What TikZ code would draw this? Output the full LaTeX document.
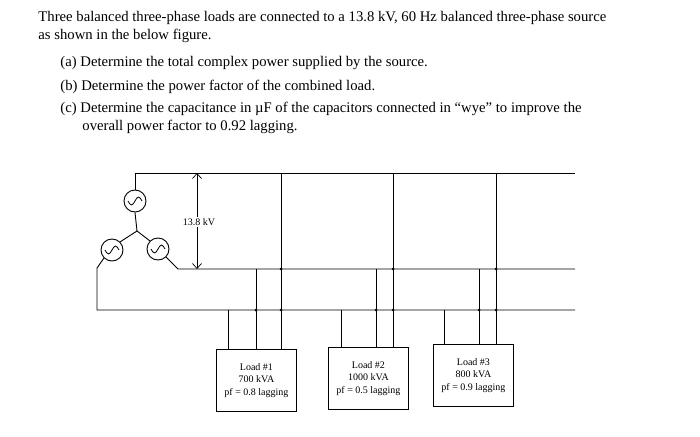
\documentclass[tikz,border=0pt]{standalone}
\usepackage{fontspec}
\setmainfont{Liberation Serif}
\usetikzlibrary{arrows.meta}
\begin{document}
\begin{tikzpicture}[x=1pt,y=-1pt,line width=0.9pt,
  txt/.style={anchor=base west,inner sep=0pt,font=\fontsize{14.7}{17}\selectfont},
  gen/.style={circle,draw,minimum size=22pt,inner sep=0pt},
  loadbox/.style={draw,minimum width=80pt,minimum height=62pt,anchor=north west,inner sep=2pt,align=center,font=\fontsize{10}{12.5}\selectfont},
  dot/.style={circle,fill,inner sep=0pt,minimum size=3pt},
  varrow/.style={-{Straight Barb[length=5pt,width=9pt]},line width=0.7pt}]
\useasboundingbox[fill=white] (0,0) rectangle (700,436);
\node[txt] (t1) at (38,22) {Three balanced three-phase loads are connected to a 13.8 kV, 60 Hz balanced three-phase source};
\node[txt] (t2) at (38,40) {as shown in the below figure.};
\node[txt] (a) at (60,66) {(a) Determine the total complex power supplied by the source.};
\node[txt] (b) at (60,90) {(b) Determine the power factor of the combined load.};
\node[txt] (c) at (60,112) {(c) Determine the capacitance in µF of the capacitors connected in “wye” to improve the};
\node[txt] (c2) at (82,130) {overall power factor to 0.92 lagging.};
% generators
\node[gen] (g1) at (135,201) {};
\node[gen] (g2) at (112,250) {};
\node[gen] (g3) at (158,249) {};
\foreach \g in {g1,g2,g3}
  \draw[line width=0.8pt] ([xshift=-7pt]\g.center) sin ([xshift=-3.5pt,yshift=-4pt]\g.center) cos (\g.center) sin ([xshift=3.5pt,yshift=4pt]\g.center) cos ([xshift=7pt]\g.center);
\coordinate (n) at (137,231);
\draw (g1.south) -- (n) -- (g2.north east);
\draw (n) -- (g3.north west);
% buses
\coordinate (ta) at (135,173); \coordinate (tb) at (575,173);
\coordinate (ma) at (178,269); \coordinate (mb) at (575,269);
\coordinate (ba) at (97,268);  \coordinate (bl) at (97,310); \coordinate (bb) at (575,310);
\draw (g1.north) -- (ta) -- (tb);
\draw (g3.south east) -- (ma) -- (mb);
\draw (g2.south west) -- (ba) -- (bl) -- (bb);
% voltage arrow
\coordinate (va) at (197,173); \coordinate (vb) at (197,269);
\coordinate (vm) at (197,222);
\draw[varrow] (vm) -- (va);
\draw[varrow] (vm) -- (vb);
\node[fill=white,inner sep=1pt,font=\fontsize{10}{11}\selectfont] (vl) at (199,222) {13.8 kV};
% loads
\node[loadbox] (L1) at (216,349) {Load \#1\\700 kVA\\pf = 0.8 lagging};
\node[loadbox] (L2) at (328,347) {Load \#2\\1000 kVA\\pf = 0.5 lagging};
\node[loadbox] (L3) at (433,344) {Load \#3\\800 kVA\\pf = 0.9 lagging};
\draw (228,310) -- (228,349); \draw (256,269) -- (256,349); \draw (281,173) -- (281,349);
\draw (341,310) -- (341,347); \draw (376,269) -- (376,347); \draw (393,173) -- (393,347);
\draw (444,310) -- (444,344); \draw (479,269) -- (479,344); \draw (496,173) -- (496,344);
\foreach \p in {(256,310),(281,269),(281,310),(376,310),(393,269),(393,310),(479,310),(496,269),(496,310)}
  \node[dot] at \p {};
\end{tikzpicture}
\end{document}
